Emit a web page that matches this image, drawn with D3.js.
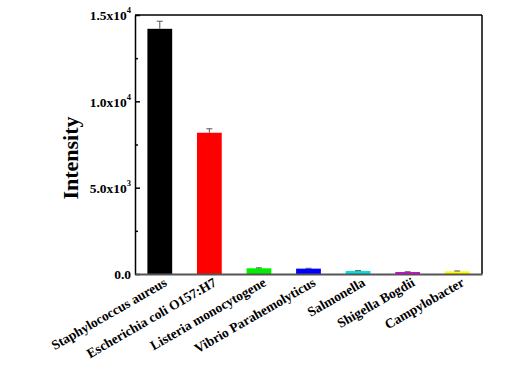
<!DOCTYPE html>
<html><head><meta charset="utf-8">
<script src="https://cdn.jsdelivr.net/npm/d3@7"></script>
<style>
html,body{margin:0;padding:0;background:#fff;}
text{font-family:"Liberation Serif","Times New Roman",serif;font-weight:bold;}
</style></head>
<body><svg id="c" width="523" height="367"></svg>
<script>
const categories = ["Staphylococcus aureus","Escherichia coli O157:H7","Listeria monocytogene","Vibrio Parahemolyticus","Salmonella","Shigella Bogdii","Campylobacter"];
const values = [14200, 8180, 330, 310, 175, 115, 155];
const errors = [440, 230, 25, 20, 20, 15, 20];
const colors = ["#000000","#ff0000","#00ee00","#0000ff","#00e0e0","#e000e0","#ffff00"];
const majorTicks = [0, 5000, 10000, 15000];
const minorTicks = [2500, 7500, 12500];
const tickLabels = [["0.0",""],["5.0x10","3"],["1.0x10","4"],["1.5x10","4"]];

const svg = d3.select("#c");
const m = {l:135, r:482, t:15, b:274};
const x = d3.scaleBand().domain(categories).range([m.l, m.r]).paddingInner(0.5).paddingOuter(0.25);
const y = d3.scaleLinear().domain([0, 15000]).range([m.b, m.t]);

// bars
svg.selectAll("rect.bar").data(categories).join("rect")
  .attr("class","bar")
  .attr("x", d => x(d)).attr("width", x.bandwidth())
  .attr("y", (d,i) => y(values[i])).attr("height", (d,i) => y(0) - y(values[i]))
  .attr("fill", (d,i) => colors[i]);

// error bars
const eb = svg.append("g").attr("stroke","#555").attr("stroke-width",1);
categories.forEach((c,i) => {
  const cx = x(c) + x.bandwidth()/2;
  eb.append("line").attr("x1",cx).attr("x2",cx).attr("y1",y(values[i])).attr("y2",y(values[i]+errors[i]));
  eb.append("line").attr("x1",cx-3).attr("x2",cx+3).attr("y1",y(values[i]+errors[i])).attr("y2",y(values[i]+errors[i]));
});

// y axis
const yAxis = d3.axisLeft(y).tickValues(majorTicks).tickSizeInner(-5).tickSizeOuter(0).tickPadding(4).tickFormat(() => "");
const gy = svg.append("g").attr("transform",`translate(${m.l},0)`).call(yAxis);
gy.select(".domain").attr("stroke","#000").attr("stroke-width",1.5);
gy.selectAll(".tick line").attr("stroke","#000").attr("stroke-width",1.5);
gy.selectAll(".tick text").each(function(d,i){
  const t = d3.select(this).attr("font-size",13.5).attr("fill","#000").attr("dy","0.35em");
  t.append("tspan").text(tickLabels[i][0]);
  if (tickLabels[i][1]) t.append("tspan").attr("font-size",8.5).attr("dy","-0.8em").text(tickLabels[i][1]);
});
const yMinor = d3.axisLeft(y).tickValues(minorTicks).tickSizeInner(-3).tickSizeOuter(0).tickFormat(() => "");
const gym = svg.append("g").attr("transform",`translate(${m.l},0)`).call(yMinor);
gym.select(".domain").remove();
gym.selectAll(".tick line").attr("stroke","#000").attr("stroke-width",1.5);

// top and right frame
svg.append("line").attr("x1",m.l).attr("x2",m.r).attr("y1",m.t).attr("y2",m.t).attr("stroke","#000").attr("stroke-width",1.5);
svg.append("line").attr("x1",m.r).attr("x2",m.r).attr("y1",m.t).attr("y2",m.b).attr("stroke","#000").attr("stroke-width",1.5);

// x axis
const xAxis = d3.axisBottom(x).tickSize(0).tickSizeOuter(0).tickPadding(0);
const gx = svg.append("g").attr("transform",`translate(0,${m.b})`).call(xAxis);
gx.select(".domain").attr("stroke","#555").attr("stroke-width",1.8);
gx.selectAll(".tick text")
  .attr("font-size",13.5).attr("fill","#000")
  .attr("text-anchor","end").attr("dy",0).attr("y",0)
  .attr("transform","translate(8,11) rotate(-30)");

// y title
svg.append("text").attr("transform","translate(78,158) rotate(-90)")
  .attr("text-anchor","middle").attr("font-size",22).attr("fill","#000").text("Intensity");
</script></body></html>
